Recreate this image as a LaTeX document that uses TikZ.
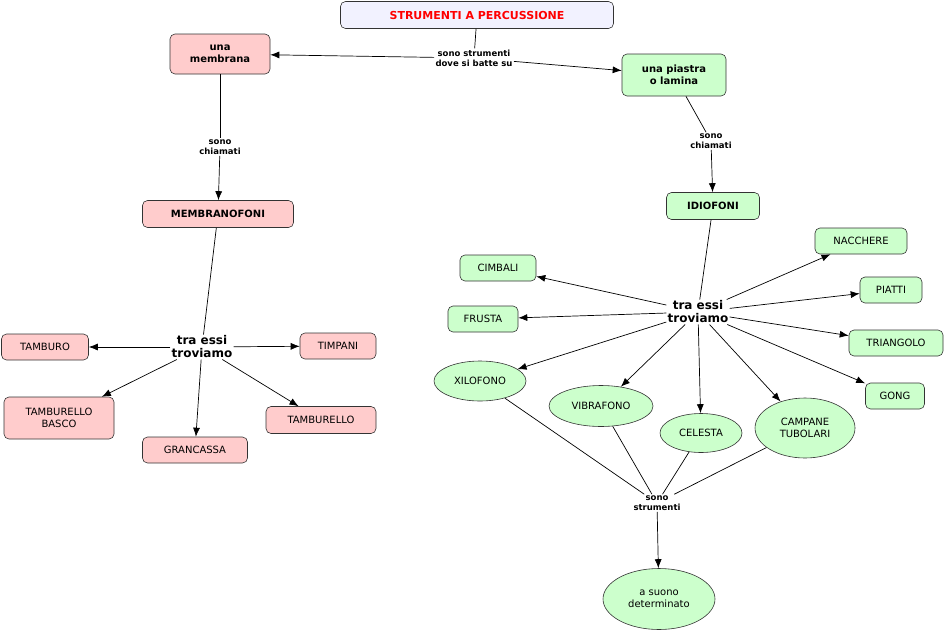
\documentclass[tikz,border=0pt]{standalone}
\usepackage{fontspec}
\setmainfont{DejaVu Sans}
\usetikzlibrary{shapes.geometric,arrows.meta}
\begin{document}
\begin{tikzpicture}[x=1pt,y=-1pt,>={Latex[length=9pt,width=7pt]},line width=0.7pt,
 box/.style={draw=black!80,line width=0.6pt,rounded corners=5pt,align=center,font=\fontsize{10}{12}\selectfont,inner sep=0pt,anchor=center},
 pk/.style={box,fill=red!20},
 gr/.style={box,fill=green!20},
 el/.style={draw=black!80,line width=0.6pt,ellipse,fill=green!20,align=center,font=\fontsize{10}{12}\selectfont,inner sep=0pt},
 lab/.style={align=center,font=\bfseries\fontsize{8.5}{10}\selectfont,inner sep=1pt,fill=white},
 big/.style={align=center,font=\bfseries\fontsize{12}{13}\selectfont,inner sep=1pt,fill=white},
 ar/.style={->},
 ln/.style={}]
\useasboundingbox (0,0) rectangle (952,632);
\node[box,fill=blue!5,text=red,font=\bfseries\fontsize{11}{13}\selectfont,minimum width=273pt,minimum height=27pt] (t) at (477,15) {STRUMENTI A PERCUSSIONE};
\node[pk,font=\bfseries\fontsize{10}{12}\selectfont,minimum width=100pt,minimum height=40pt] (m) at (220,54) {una\\membrana};
\node[lab] (l1) at (474,58) {sono strumenti\\dove si batte su};
\node[gr,font=\bfseries\fontsize{10}{12}\selectfont,minimum width=104pt,minimum height=42pt] (p) at (674,75) {una piastra\\o lamina};
\node[lab] (l2) at (220,147) {sono\\chiamati};
\node[pk,font=\bfseries\fontsize{10}{12}\selectfont,minimum width=151pt,minimum height=27pt] (mf) at (218,214) {MEMBRANOFONI};
\node[lab] (l3) at (711,141) {sono\\chiamati};
\node[gr,font=\bfseries\fontsize{10}{12}\selectfont,minimum width=93pt,minimum height=27pt] (id) at (713,206) {IDIOFONI};
\node[big] (tl) at (202,347) {tra essi\\troviamo};
\node[pk,minimum width=87pt,minimum height=26pt] (a1) at (45,347) {TAMBURO};
\node[pk,minimum width=76pt,minimum height=26pt] (a2) at (338,346) {TIMPANI};
\node[pk,minimum width=110pt,minimum height=42pt] (a3) at (59,418) {TAMBURELLO\\BASCO};
\node[pk,minimum width=105pt,minimum height=26pt] (a4) at (195,450) {GRANCASSA};
\node[pk,minimum width=110pt,minimum height=27pt] (a5) at (321,420) {TAMBURELLO};
\node[big] (tr) at (698,312) {tra essi\\troviamo};
\node[gr,minimum width=76pt,minimum height=26pt] (b1) at (498,268) {CIMBALI};
\node[gr,minimum width=70pt,minimum height=26pt] (b2) at (483,319) {FRUSTA};
\node[gr,minimum width=92pt,minimum height=26pt] (b3) at (861,241) {NACCHERE};
\node[gr,minimum width=62pt,minimum height=26pt] (b4) at (891,290) {PIATTI};
\node[gr,minimum width=94pt,minimum height=26pt] (b5) at (896,343) {TRIANGOLO};
\node[gr,minimum width=59pt,minimum height=26pt] (b6) at (895,396) {GONG};
\node[el,minimum width=92pt,minimum height=40pt] (e1) at (480,381) {XILOFONO};
\node[el,minimum width=104pt,minimum height=41pt] (e2) at (601,406) {VIBRAFONO};
\node[el,minimum width=82pt,minimum height=39pt] (e3) at (701,433) {CELESTA};
\node[el,minimum width=100pt,minimum height=60pt] (e4) at (805,428) {CAMPANE\\TUBOLARI};
\node[lab] (l4) at (657,503) {sono\\strumenti};
\node[el,minimum width=112pt,minimum height=61pt] (d) at (659,599) {a suono\\determinato};
\draw[ln] (t) -- (l1);
\draw[ar] (l1) -- (m);
\draw[ar] (l1) -- (p);
\draw[ln] (m) -- (l2); \draw[ar] (l2) -- (mf);
\draw[ln] (p) -- (l3); \draw[ar] (l3) -- (id);
\draw[ln] (mf) -- (tl);
\foreach \n in {a1,a2,a3,a4,a5} \draw[ar] (tl) -- (\n);
\draw[ln] (id) -- (tr);
\foreach \n in {b1,b2,b3,b4,b5,b6,e1,e2,e3,e4} \draw[ar] (tr) -- (\n);
\foreach \n in {e1,e2,e3,e4} \draw[ln] (\n) -- (l4);
\draw[ar] (l4) -- (d);
\end{tikzpicture}
\end{document}
